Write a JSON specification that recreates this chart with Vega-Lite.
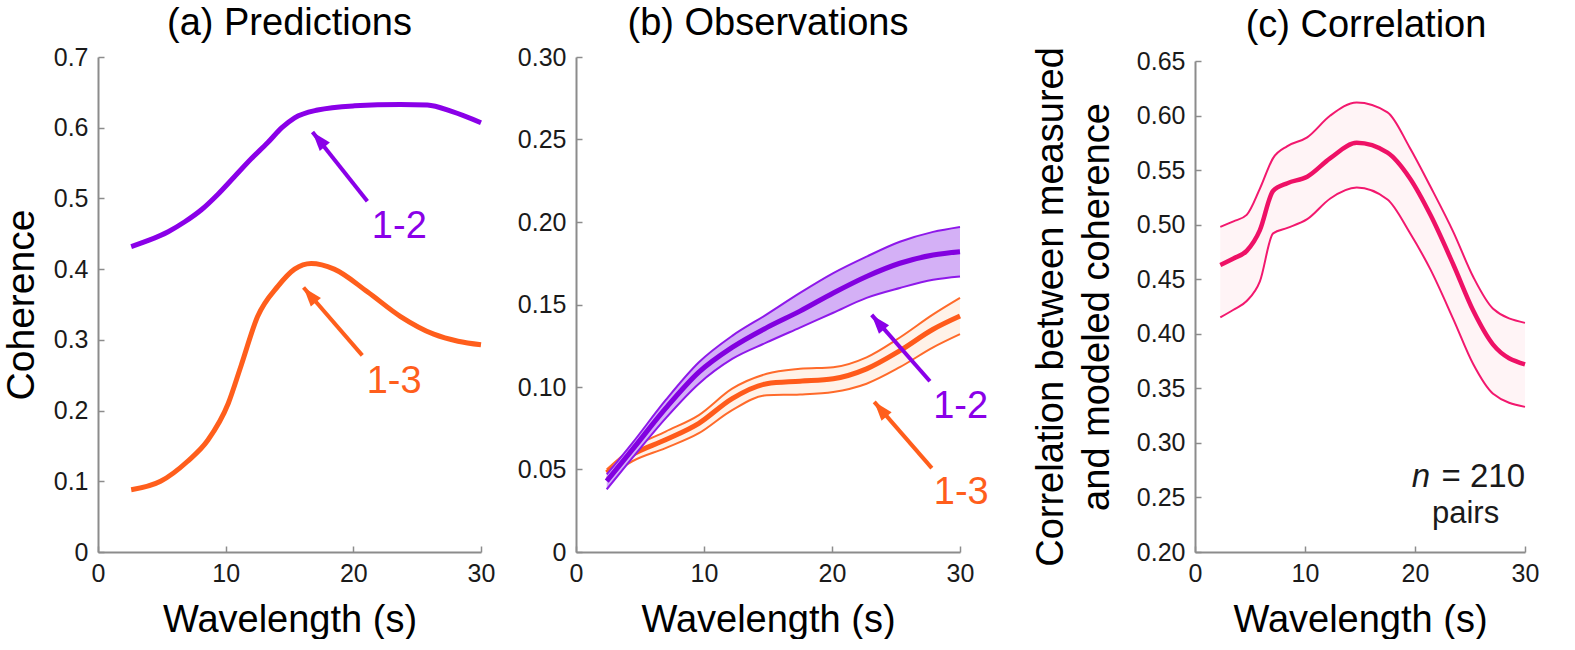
{
  "$schema": "https://vega.github.io/schema/vega-lite/v6.json",
  "background": "white",
  "padding": {"left": 2, "top": 5, "right": 0, "bottom": 0},
  "config": {
    "font": "Liberation Sans",
    "view": {"stroke": null},
    "axis": {"domainColor": "#8c8c8c", "domainWidth": 2, "tickColor": "#8c8c8c", "tickWidth": 1.5, "tickSize": -6, "labelFontSize": 25, "labelColor": "#1a1a1a", "titleFontSize": 38, "titleFontWeight": "normal", "titleColor": "#000000", "grid": false, "labelFlush": false, "labelOverlap": false},
    "axisX": {"labelPadding": 15, "titlePadding": 15},
    "axisY": {"labelPadding": 16, "titlePadding": 12},
    "title": {"fontSize": 38, "fontWeight": "normal", "color": "#000000", "anchor": "middle", "baseline": "alphabetic", "offset": 2},
    "text": {"font": "Liberation Sans"}
  },
  "datasets": {
    "pred": [
      {"series": "1-2", "x": 2.6, "y": 0.432},
      {"series": "1-2", "x": 4.0, "y": 0.441},
      {"series": "1-2", "x": 5.5, "y": 0.453},
      {"series": "1-2", "x": 6.8, "y": 0.467},
      {"series": "1-2", "x": 8.1, "y": 0.484},
      {"series": "1-2", "x": 9.4, "y": 0.506},
      {"series": "1-2", "x": 10.7, "y": 0.531},
      {"series": "1-2", "x": 12.0, "y": 0.556},
      {"series": "1-2", "x": 13.3, "y": 0.579},
      {"series": "1-2", "x": 14.4, "y": 0.600},
      {"series": "1-2", "x": 15.4, "y": 0.614},
      {"series": "1-2", "x": 17.2, "y": 0.625},
      {"series": "1-2", "x": 20.1, "y": 0.631},
      {"series": "1-2", "x": 23.7, "y": 0.633},
      {"series": "1-2", "x": 25.8, "y": 0.632},
      {"series": "1-2", "x": 27.7, "y": 0.623},
      {"series": "1-2", "x": 30.0, "y": 0.607},
      {"series": "1-3", "x": 2.6, "y": 0.088},
      {"series": "1-3", "x": 4.9, "y": 0.100},
      {"series": "1-3", "x": 7.0, "y": 0.128},
      {"series": "1-3", "x": 8.6, "y": 0.158},
      {"series": "1-3", "x": 10.2, "y": 0.210},
      {"series": "1-3", "x": 11.2, "y": 0.263},
      {"series": "1-3", "x": 12.5, "y": 0.333},
      {"series": "1-3", "x": 14.1, "y": 0.376},
      {"series": "1-3", "x": 15.4, "y": 0.400},
      {"series": "1-3", "x": 16.7, "y": 0.408},
      {"series": "1-3", "x": 18.5, "y": 0.400},
      {"series": "1-3", "x": 21.1, "y": 0.368},
      {"series": "1-3", "x": 23.7, "y": 0.333},
      {"series": "1-3", "x": 26.3, "y": 0.308},
      {"series": "1-3", "x": 28.2, "y": 0.298},
      {"series": "1-3", "x": 30.0, "y": 0.293}
    ],
    "obs": [
      {"series": "1-2", "x": 2.4, "mean": 0.043, "lo": 0.038, "hi": 0.047},
      {"series": "1-2", "x": 4.4, "mean": 0.062, "lo": 0.057, "hi": 0.066},
      {"series": "1-2", "x": 7.0, "mean": 0.087, "lo": 0.081, "hi": 0.092},
      {"series": "1-2", "x": 9.6, "mean": 0.109, "lo": 0.102, "hi": 0.115},
      {"series": "1-2", "x": 12.2, "mean": 0.124, "lo": 0.117, "hi": 0.131},
      {"series": "1-2", "x": 14.9, "mean": 0.136, "lo": 0.127, "hi": 0.144},
      {"series": "1-2", "x": 17.5, "mean": 0.146, "lo": 0.136, "hi": 0.157},
      {"series": "1-2", "x": 20.1, "mean": 0.157, "lo": 0.145, "hi": 0.169},
      {"series": "1-2", "x": 22.7, "mean": 0.167, "lo": 0.154, "hi": 0.179},
      {"series": "1-2", "x": 25.3, "mean": 0.175, "lo": 0.160, "hi": 0.188},
      {"series": "1-2", "x": 27.9, "mean": 0.180, "lo": 0.165, "hi": 0.194},
      {"series": "1-2", "x": 30.0, "mean": 0.182, "lo": 0.167, "hi": 0.197},
      {"series": "1-3", "x": 2.4, "mean": 0.048, "lo": 0.045, "hi": 0.050},
      {"series": "1-3", "x": 4.4, "mean": 0.059, "lo": 0.055, "hi": 0.063},
      {"series": "1-3", "x": 7.0, "mean": 0.068, "lo": 0.063, "hi": 0.073},
      {"series": "1-3", "x": 9.6, "mean": 0.078, "lo": 0.072, "hi": 0.083},
      {"series": "1-3", "x": 12.2, "mean": 0.093, "lo": 0.086, "hi": 0.099},
      {"series": "1-3", "x": 14.9, "mean": 0.102, "lo": 0.095, "hi": 0.108},
      {"series": "1-3", "x": 17.5, "mean": 0.1035, "lo": 0.0955, "hi": 0.111},
      {"series": "1-3", "x": 20.1, "mean": 0.105, "lo": 0.097, "hi": 0.112},
      {"series": "1-3", "x": 22.7, "mean": 0.111, "lo": 0.102, "hi": 0.118},
      {"series": "1-3", "x": 25.3, "mean": 0.122, "lo": 0.112, "hi": 0.130},
      {"series": "1-3", "x": 27.9, "mean": 0.135, "lo": 0.124, "hi": 0.144},
      {"series": "1-3", "x": 30.0, "mean": 0.143, "lo": 0.132, "hi": 0.154}
    ],
    "corr": [
      {"x": 2.3, "mean": 0.463, "lo": 0.415, "hi": 0.498},
      {"x": 3.5, "mean": 0.469, "lo": 0.422, "hi": 0.503},
      {"x": 4.7, "mean": 0.476, "lo": 0.430, "hi": 0.509},
      {"x": 5.9, "mean": 0.495, "lo": 0.448, "hi": 0.533},
      {"x": 7.1, "mean": 0.531, "lo": 0.492, "hi": 0.561},
      {"x": 8.4, "mean": 0.538, "lo": 0.497, "hi": 0.572},
      {"x": 10.2, "mean": 0.544, "lo": 0.505, "hi": 0.580},
      {"x": 12.3, "mean": 0.561, "lo": 0.524, "hi": 0.600},
      {"x": 14.7, "mean": 0.575, "lo": 0.534, "hi": 0.612},
      {"x": 17.5, "mean": 0.566, "lo": 0.523, "hi": 0.603},
      {"x": 19.5, "mean": 0.543, "lo": 0.493, "hi": 0.571},
      {"x": 21.4, "mean": 0.509, "lo": 0.459, "hi": 0.535},
      {"x": 23.5, "mean": 0.463, "lo": 0.413, "hi": 0.493},
      {"x": 25.3, "mean": 0.421, "lo": 0.372, "hi": 0.452},
      {"x": 27.1, "mean": 0.390, "lo": 0.345, "hi": 0.423},
      {"x": 30.0, "mean": 0.372, "lo": 0.333, "hi": 0.410}
    ],
    "arrows": [
      {"panel": "a", "series": "1-2", "x": 21.1, "y": 0.496, "x2": 16.8, "y2": 0.594},
      {"panel": "a", "series": "1-3", "x": 20.7, "y": 0.278, "x2": 16.1, "y2": 0.374},
      {"panel": "b", "series": "1-2", "x": 27.65, "y": 0.1035, "x2": 23.1, "y2": 0.1437},
      {"panel": "b", "series": "1-3", "x": 27.8, "y": 0.0508, "x2": 23.3, "y2": 0.091}
    ],
    "labels": [
      {"panel": "a", "series": "1-2", "x": 23.6, "y": 0.459, "text": "1-2"},
      {"panel": "a", "series": "1-3", "x": 23.2, "y": 0.241, "text": "1-3"},
      {"panel": "b", "series": "1-2", "x": 30.05, "y": 0.088, "text": "1-2"},
      {"panel": "b", "series": "1-3", "x": 30.1, "y": 0.036, "text": "1-3"}
    ],
    "note": [
      {"part": "n", "x": 19.7, "y": 0.2687, "text": "n"},
      {"part": "eq", "x": 30.0, "y": 0.2687, "text": "= 210"},
      {"part": "pairs", "x": 24.6, "y": 0.235, "text": "pairs"}
    ]
  },
  "hconcat": [
    {
      "width": 383,
      "height": 495,
      "title": {"text": "(a)  Predictions"},
      "layer": [
        {
          "data": {"name": "pred"},
          "mark": {"type": "line", "strokeWidth": 5, "interpolate": "monotone"},
          "encoding": {
            "x": {"field": "x", "type": "quantitative", "scale": {"domain": [0, 30], "nice": false}, "axis": {"values": [0, 10, 20, 30], "format": "d", "title": "Wavelength (s)"}},
            "y": {"field": "y", "type": "quantitative", "scale": {"domain": [0, 0.7], "nice": false}, "axis": {"values": [0, 0.1, 0.2, 0.3, 0.4, 0.5, 0.6, 0.7], "labelExpr": "datum.value == 0 ? '0' : format(datum.value, '.1f')", "title": "Coherence", "titleFontSize": 39}},
            "color": {"field": "series", "type": "nominal", "scale": {"domain": ["1-2", "1-3"], "range": ["#8a00e8", "#ff5e1c"]}, "legend": null}
          }
        },
        {
          "data": {"name": "arrows"},
          "transform": [{"filter": "datum.panel == 'a'"}],
          "mark": {"type": "rule", "strokeWidth": 4},
          "encoding": {
            "x": {"field": "x", "type": "quantitative"},
            "y": {"field": "y", "type": "quantitative"},
            "x2": {"field": "x2"},
            "y2": {"field": "y2"},
            "color": {"field": "series", "type": "nominal", "legend": null}
          }
        },
        {
          "data": {"name": "arrows"},
          "transform": [{"filter": "datum.panel == 'a'"}],
          "mark": {"type": "point", "shape": "M0,0L0.55,1.6L-0.55,1.6Z", "filled": true, "opacity": 1, "size": 576, "angle": 320},
          "encoding": {
            "x": {"field": "x2", "type": "quantitative"},
            "y": {"field": "y2", "type": "quantitative"},
            "color": {"field": "series", "type": "nominal", "legend": null}
          }
        },
        {
          "data": {"name": "labels"},
          "transform": [{"filter": "datum.panel == 'a'"}],
          "mark": {"type": "text", "fontSize": 38, "align": "center", "baseline": "middle"},
          "encoding": {
            "x": {"field": "x", "type": "quantitative"},
            "y": {"field": "y", "type": "quantitative"},
            "text": {"field": "text"},
            "color": {"field": "series", "type": "nominal", "legend": null}
          }
        }
      ]
    },
    {
      "width": 384,
      "height": 495,
      "title": {"text": "(b) Observations"},
      "layer": [
        {
          "data": {"name": "obs"},
          "transform": [{"filter": "datum.series == '1-3'"}],
          "mark": {"type": "area", "color": "#fff2e8", "interpolate": "monotone"},
          "encoding": {
            "x": {"field": "x", "type": "quantitative", "scale": {"domain": [0, 30], "nice": false}, "axis": {"values": [0, 10, 20, 30], "format": "d", "title": "Wavelength (s)"}},
            "y": {"field": "lo", "type": "quantitative", "scale": {"domain": [0, 0.3], "nice": false}, "axis": {"values": [0, 0.05, 0.1, 0.15, 0.2, 0.25, 0.3], "labelExpr": "datum.value == 0 ? '0' : format(datum.value, '.2f')", "title": null}},
            "y2": {"field": "hi"}
          }
        },
        {
          "data": {"name": "obs"},
          "transform": [{"filter": "datum.series == '1-3'"}],
          "mark": {"type": "line", "color": "#ff6a2a", "strokeWidth": 2, "interpolate": "monotone"},
          "encoding": {"x": {"field": "x", "type": "quantitative"}, "y": {"field": "lo", "type": "quantitative"}}
        },
        {
          "data": {"name": "obs"},
          "transform": [{"filter": "datum.series == '1-3'"}],
          "mark": {"type": "line", "color": "#ff6a2a", "strokeWidth": 2, "interpolate": "monotone"},
          "encoding": {"x": {"field": "x", "type": "quantitative"}, "y": {"field": "hi", "type": "quantitative"}}
        },
        {
          "data": {"name": "obs"},
          "transform": [{"filter": "datum.series == '1-3'"}],
          "mark": {"type": "line", "color": "#ff5a1a", "strokeWidth": 5, "interpolate": "monotone"},
          "encoding": {"x": {"field": "x", "type": "quantitative"}, "y": {"field": "mean", "type": "quantitative"}}
        },
        {
          "data": {"name": "obs"},
          "transform": [{"filter": "datum.series == '1-2'"}],
          "mark": {"type": "area", "color": "#d4b0f6", "interpolate": "monotone"},
          "encoding": {"x": {"field": "x", "type": "quantitative"}, "y": {"field": "lo", "type": "quantitative"}, "y2": {"field": "hi"}}
        },
        {
          "data": {"name": "obs"},
          "transform": [{"filter": "datum.series == '1-2'"}],
          "mark": {"type": "line", "color": "#8e18ea", "strokeWidth": 2, "interpolate": "monotone"},
          "encoding": {"x": {"field": "x", "type": "quantitative"}, "y": {"field": "lo", "type": "quantitative"}}
        },
        {
          "data": {"name": "obs"},
          "transform": [{"filter": "datum.series == '1-2'"}],
          "mark": {"type": "line", "color": "#8e18ea", "strokeWidth": 2, "interpolate": "monotone"},
          "encoding": {"x": {"field": "x", "type": "quantitative"}, "y": {"field": "hi", "type": "quantitative"}}
        },
        {
          "data": {"name": "obs"},
          "transform": [{"filter": "datum.series == '1-2'"}],
          "mark": {"type": "line", "color": "#8200e0", "strokeWidth": 5, "interpolate": "monotone"},
          "encoding": {"x": {"field": "x", "type": "quantitative"}, "y": {"field": "mean", "type": "quantitative"}}
        },
        {
          "data": {"name": "arrows"},
          "transform": [{"filter": "datum.panel == 'b'"}],
          "mark": {"type": "rule", "strokeWidth": 4},
          "encoding": {
            "x": {"field": "x", "type": "quantitative"},
            "y": {"field": "y", "type": "quantitative"},
            "x2": {"field": "x2"},
            "y2": {"field": "y2"},
            "color": {"field": "series", "type": "nominal", "scale": {"domain": ["1-2", "1-3"], "range": ["#8a00e8", "#ff5e1c"]}, "legend": null}
          }
        },
        {
          "data": {"name": "arrows"},
          "transform": [{"filter": "datum.panel == 'b'"}],
          "mark": {"type": "point", "shape": "M0,0L0.55,1.6L-0.55,1.6Z", "filled": true, "opacity": 1, "size": 576, "angle": 320},
          "encoding": {
            "x": {"field": "x2", "type": "quantitative"},
            "y": {"field": "y2", "type": "quantitative"},
            "color": {"field": "series", "type": "nominal", "legend": null}
          }
        },
        {
          "data": {"name": "labels"},
          "transform": [{"filter": "datum.panel == 'b'"}],
          "mark": {"type": "text", "fontSize": 38, "align": "center", "baseline": "middle"},
          "encoding": {
            "x": {"field": "x", "type": "quantitative"},
            "y": {"field": "y", "type": "quantitative"},
            "text": {"field": "text"},
            "color": {"field": "series", "type": "nominal", "legend": null}
          }
        }
      ]
    },
    {
      "width": 470,
      "height": 495,
      "title": {"text": "(c) Correlation", "dx": 76},
      "data": {"name": "corr"},
      "layer": [
        {
          "mark": {"type": "area", "color": "#fff4f6", "interpolate": "monotone"},
          "encoding": {
            "x": {"field": "x", "type": "quantitative", "scale": {"domain": [0, 30], "nice": false, "range": [140, 470]}, "axis": {"values": [0, 10, 20, 30], "format": "d", "title": "Wavelength (s)"}},
            "y": {"field": "lo", "type": "quantitative", "scale": {"domain": [0.2, 0.65], "nice": false, "zero": false, "range": [495, 4]}, "axis": {"offset": -140, "values": [0.2, 0.25, 0.3, 0.35, 0.4, 0.45, 0.5, 0.55, 0.6, 0.65], "format": ".2f", "title": ["Correlation between measured", "and modeled coherence"], "titleFontSize": 38, "titleLineHeight": 46, "titlePadding": 20}},
            "y2": {"field": "hi"}
          }
        },
        {
          "mark": {"type": "line", "color": "#f2186e", "strokeWidth": 2, "interpolate": "monotone"},
          "encoding": {"x": {"field": "x", "type": "quantitative"}, "y": {"field": "lo", "type": "quantitative"}}
        },
        {
          "mark": {"type": "line", "color": "#f2186e", "strokeWidth": 2, "interpolate": "monotone"},
          "encoding": {"x": {"field": "x", "type": "quantitative"}, "y": {"field": "hi", "type": "quantitative"}}
        },
        {
          "mark": {"type": "line", "color": "#ee1166", "strokeWidth": 4.5, "interpolate": "monotone"},
          "encoding": {"x": {"field": "x", "type": "quantitative"}, "y": {"field": "mean", "type": "quantitative"}}
        },
        {
          "data": {"name": "note"},
          "transform": [{"filter": "datum.part == 'n'"}],
          "mark": {"type": "text", "fontSize": 33, "fontStyle": "italic", "align": "left", "baseline": "middle", "color": "#1a1a1a"},
          "encoding": {"x": {"field": "x", "type": "quantitative"}, "y": {"field": "y", "type": "quantitative"}, "text": {"field": "text"}}
        },
        {
          "data": {"name": "note"},
          "transform": [{"filter": "datum.part == 'eq'"}],
          "mark": {"type": "text", "fontSize": 33, "align": "right", "baseline": "middle", "color": "#1a1a1a"},
          "encoding": {"x": {"field": "x", "type": "quantitative"}, "y": {"field": "y", "type": "quantitative"}, "text": {"field": "text"}}
        },
        {
          "data": {"name": "note"},
          "transform": [{"filter": "datum.part == 'pairs'"}],
          "mark": {"type": "text", "fontSize": 31, "align": "center", "baseline": "middle", "color": "#1a1a1a"},
          "encoding": {"x": {"field": "x", "type": "quantitative"}, "y": {"field": "y", "type": "quantitative"}, "text": {"field": "text"}}
        }
      ]
    }
  ],
  "spacing": 95,
  "bounds": "flush"
}
